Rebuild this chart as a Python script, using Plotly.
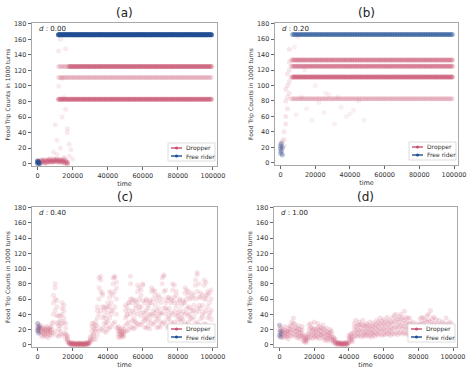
import plotly.graph_objects as go

# ---------------- data ----------------
time = list(range(0, 100000, 1000))  # sample times
x_ticks = [0, 20000, 40000, 60000, 80000, 100000]
y_ticks = [0, 20, 40, 60, 80, 100, 120, 140, 160, 180]
panel_titles = ["(a)", "(b)", "(c)", "(d)"]
panel_d = ["0.00", "0.20", "0.40", "1.00"]
legend_labels = ["Dropper", "Free rider"]

# panel (a): d = 0.00
a_free_band_level = [166]
a_free_band_start = [12000]
a_free_band_end = [99000]
a_free_band_agents = [4]
a_drop_band_level = [125, 125, 111, 83]
a_drop_band_start = [18000, 12000, 12000, 12000]
a_drop_band_end = [99000, 17000, 99000, 99000]
a_drop_band_agents = [3, 1, 1, 3]
a_free_early_time = [0, 0, 500, 1000]
a_free_early = [1, 3, 2, 0]
a_drop_low1 = [2, 3, 1, 4, 2, 3, 5, 2, 4, 3, 5, 4, 3, 2, 4, 3, 1, 0]
a_drop_low2 = [0, 1, 3, 2, 5, 1, 3, 4, 2, 6, 3, 2, 5, 4, 2, 1, 2, 1]
a_drop_low3 = [4, 2, 5, 3, 1, 4, 2, 6, 3, 2, 4, 6, 2, 5, 3, 6, 4, 2]
a_trans_time = [9000, 10000, 11000, 11000, 12000, 12000, 13000, 13000, 14000, 14000,
                15000, 15000, 16000, 16000, 17000, 17000, 18000, 18000, 19000, 20000]
a_trans_vals = [15, 50, 30, 12, 100, 145, 160, 20, 60, 110,
                8, 85, 70, 148, 45, 40, 25, 10, 18, 6]

# panel (b): d = 0.20
b_free_band_level = [166]
b_free_band_start = [7000]
b_free_band_end = [99000]
b_free_band_agents = [2]
b_drop_band_level = [133, 125, 111, 83]
b_drop_band_start = [7000, 7000, 7000, 7000]
b_drop_band_end = [99000, 99000, 99000, 99000]
b_drop_band_agents = [2, 2, 3, 1]
b_free_early_time = [0, 0, 0, 500, 500, 1000, 1000]
b_free_early = [12, 18, 22, 15, 25, 10, 20]
b_rise_time = [0, 0, 0, 1000, 1000, 1000, 2000, 2000, 2000, 3000, 3000, 3000, 3000,
               4000, 4000, 4000, 4000, 5000, 5000, 5000, 5000, 5000, 6000, 6000, 6000, 6000]
b_rise_vals = [15, 20, 25, 18, 28, 12, 22, 30, 40, 50, 80, 95, 60,
               85, 100, 115, 70, 147, 120, 130, 90, 105, 110, 125, 133, 83]
b_scatter_time = [8000, 9000, 10000, 12000, 15000, 18000, 20000, 22000, 25000, 28000,
                  31000, 35000, 38000, 42000, 45000, 48000, 14000, 26000, 33000, 40000]
b_scatter_vals = [150, 62, 163, 85, 70, 55, 100, 78, 65, 88,
                  50, 72, 60, 68, 80, 55, 120, 90, 85, 63]

# panel (c): d = 0.40
c_free_time = [0, 0, 500, 500, 1000]
c_free = [28, 18, 22, 15, 24]
c_drop1 = [18, 16, 12, 10, 14, 11, 9, 13, 12, 15, 18, 12, 11, 14, 12, 15, 8, 4, 1, 0,
           1, 0, 1, 0, 1, 0, 1, 0, 1, 1, 3, 6, 8, 7, 12, 18, 20, 22, 18, 16,
           20, 22, 24, 28, 30, 22, 10, 9, 11, 10, 17, 18, 20, 24, 22, 21, 24, 28, 26, 27,
           30, 23, 22, 24, 21, 28, 27, 30, 22, 24, 23, 28, 30, 27, 22, 24, 21, 28, 30, 26,
           22, 24, 21, 23, 28, 27, 30, 23, 22, 24, 28, 30, 27, 22, 24, 28, 27, 22, 24, 21]
c_drop2 = [24, 22, 16, 18, 20, 15, 17, 19, 16, 30, 45, 28, 20, 25, 28, 35, 15, 6, 2, 1,
           2, 1, 0, 2, 1, 2, 0, 2, 1, 2, 5, 12, 15, 18, 25, 40, 45, 35, 28, 25,
           30, 35, 40, 45, 50, 40, 14, 16, 13, 15, 25, 28, 30, 40, 32, 35, 30, 40, 45, 38,
           42, 32, 35, 30, 33, 40, 38, 42, 33, 35, 30, 42, 48, 40, 33, 35, 30, 40, 44, 38,
           32, 34, 30, 33, 40, 42, 38, 35, 33, 36, 42, 48, 44, 34, 36, 42, 45, 35, 38, 33]
c_drop3 = [28, 20, 22, 14, 12, 20, 14, 22, 20, 40, 60, 38, 30, 18, 40, 45, 22, 10, 3, 2,
           0, 2, 1, 1, 0, 1, 2, 1, 0, 3, 8, 18, 22, 25, 35, 60, 70, 50, 38, 35,
           42, 50, 55, 65, 70, 60, 18, 20, 17, 12, 35, 40, 45, 60, 45, 42, 48, 55, 60, 50,
           58, 42, 45, 48, 40, 55, 60, 52, 45, 48, 42, 60, 70, 55, 45, 48, 42, 58, 62, 50,
           42, 45, 40, 44, 55, 60, 50, 48, 45, 52, 60, 70, 62, 48, 52, 60, 65, 50, 55, 45]
c_drop4 = [20, 26, 18, 22, 17, 24, 20, 16, 24, 55, 75, 50, 38, 32, 48, 52, 28, 12, 2, 3,
           1, 0, 2, 1, 2, 0, 1, 3, 2, 1, 6, 24, 28, 20, 45, 75, 85, 65, 45, 48,
           50, 62, 68, 80, 88, 75, 22, 12, 22, 18, 45, 50, 55, 80, 55, 58, 52, 70, 75, 65,
           78, 55, 58, 52, 55, 70, 72, 65, 58, 62, 55, 80, 90, 72, 58, 62, 55, 72, 78, 65,
           55, 58, 52, 55, 68, 72, 65, 60, 62, 65, 78, 92, 80, 62, 65, 78, 82, 65, 68, 60]
c_drop5 = [22, 18, 25, 20, 22, 18, 23, 20, 28, 65, 80, 58, 25, 38, 55, 30, 12, 8, 4, 1,
           2, 3, 1, 0, 3, 1, 0, 0, 3, 2, 10, 28, 12, 30, 50, 88, 90, 68, 50, 30,
           55, 70, 45, 88, 90, 82, 24, 18, 14, 20, 52, 38, 55, 90, 60, 30, 58, 78, 50, 72,
           80, 35, 60, 38, 58, 75, 45, 70, 38, 65, 40, 88, 92, 48, 62, 38, 60, 80, 55, 70,
           38, 60, 35, 58, 75, 48, 70, 40, 68, 45, 85, 95, 52, 68, 40, 85, 60, 70, 42, 72]

# panel (d): d = 1.00
d_free_time = [0, 0, 500, 500, 1000]
d_free = [26, 12, 18, 10, 15]
d_drop1 = [12, 10, 9, 11, 10, 8, 12, 11, 14, 12, 9, 10, 8, 11, 4, 3, 5, 9, 10, 8,
           11, 9, 10, 8, 12, 9, 6, 7, 5, 8, 6, 3, 2, 0, 1, 0, 1, 0, 1, 0,
           3, 5, 4, 10, 12, 11, 13, 10, 12, 11, 13, 11, 12, 10, 13, 11, 14, 13, 15, 12,
           14, 13, 15, 14, 12, 15, 14, 16, 13, 15, 17, 14, 16, 15, 13, 14, 11, 12, 10, 13,
           11, 14, 13, 15, 12, 14, 16, 15, 13, 14, 12, 11, 13, 10, 12, 11, 13, 10, 12, 11]
d_drop2 = [16, 14, 13, 15, 12, 14, 16, 18, 20, 17, 13, 15, 12, 14, 6, 5, 8, 14, 16, 13,
           15, 12, 16, 14, 13, 15, 10, 12, 9, 11, 10, 5, 4, 1, 2, 1, 0, 2, 0, 2,
           6, 8, 7, 16, 18, 15, 19, 16, 18, 15, 17, 16, 18, 15, 17, 16, 20, 18, 21, 19,
           20, 18, 22, 19, 18, 21, 22, 24, 20, 23, 25, 21, 24, 22, 20, 21, 16, 18, 15, 17,
           16, 20, 22, 21, 19, 23, 24, 22, 20, 21, 19, 16, 18, 15, 17, 16, 19, 15, 17, 16]
d_drop3 = [20, 18, 17, 19, 16, 18, 20, 24, 28, 22, 18, 20, 16, 19, 9, 8, 10, 20, 22, 18,
           21, 17, 22, 19, 18, 21, 15, 17, 13, 16, 14, 8, 6, 2, 3, 2, 1, 3, 2, 1,
           9, 11, 10, 22, 24, 20, 26, 22, 25, 21, 23, 21, 24, 20, 23, 22, 26, 24, 28, 25,
           27, 24, 29, 26, 24, 28, 30, 32, 27, 30, 33, 28, 32, 29, 27, 28, 22, 24, 20, 23,
           21, 27, 29, 28, 25, 30, 32, 30, 27, 28, 26, 22, 25, 21, 23, 22, 26, 21, 23, 22]
d_drop4 = [25, 22, 20, 24, 18, 22, 25, 30, 35, 27, 22, 25, 20, 24, 12, 10, 14, 26, 28, 22,
           30, 20, 28, 24, 22, 26, 20, 22, 16, 20, 18, 10, 8, 3, 2, 3, 2, 1, 3, 2,
           12, 14, 15, 28, 32, 26, 30, 27, 32, 26, 28, 26, 30, 25, 29, 27, 32, 30, 35, 31,
           33, 30, 36, 32, 30, 35, 38, 40, 34, 37, 40, 35, 44, 36, 34, 35, 28, 30, 25, 28,
           26, 34, 36, 35, 32, 38, 40, 45, 34, 36, 33, 28, 32, 27, 30, 28, 35, 27, 30, 28]

# ---------------- styling ----------------
DROP = "rgb(200,80,110)"
FREE = "rgb(32,78,148)"
FONT = "DejaVu Sans"
W, H = 474, 369
# pixel boxes of the four axes: (left, right, top, bottom)
boxes = [(32, 217, 23, 166), (275, 458, 23, 165), (32, 217, 207, 347), (274, 457, 207, 347)]

fig = go.Figure()
axis_ids = [("x", "y"), ("x2", "y2"), ("x3", "y3"), ("x4", "y4")]


def pts(p, xs, ys, color, op, size=5):
    xa, ya = axis_ids[p]
    fig.add_trace(go.Scatter(x=xs, y=ys, mode="markers", xaxis=xa, yaxis=ya,
                             marker=dict(color=color, size=size, opacity=op, line=dict(width=0)),
                             showlegend=False, hoverinfo="skip"))


def bands(p, levels, starts, ends, agents, color, op):
    for lv, s, e, n in zip(levels, starts, ends, agents):
        xs = [t for t in time if s <= t <= e]
        for _ in range(n):
            pts(p, xs, [lv] * len(xs), color, op)


# (a)
pts(0, time[:18], a_drop_low1, DROP, 0.25)
pts(0, time[:18], a_drop_low2, DROP, 0.25)
pts(0, time[:18], a_drop_low3, DROP, 0.25)
pts(0, a_trans_time, a_trans_vals, DROP, 0.12)
bands(0, a_drop_band_level, a_drop_band_start, a_drop_band_end, a_drop_band_agents, DROP, 0.2)
bands(0, a_free_band_level, a_free_band_start, a_free_band_end, a_free_band_agents, FREE, 0.4)
pts(0, a_free_early_time, a_free_early, FREE, 0.6)
# (b)
pts(1, b_rise_time, b_rise_vals, DROP, 0.14)
pts(1, b_scatter_time, b_scatter_vals, DROP, 0.09)
bands(1, b_drop_band_level, b_drop_band_start, b_drop_band_end, b_drop_band_agents, DROP, 0.2)
bands(1, b_free_band_level, b_free_band_start, b_free_band_end, b_free_band_agents, FREE, 0.26)
pts(1, b_free_early_time, b_free_early, FREE, 0.3)
# (c)
for s in [c_drop1, c_drop2, c_drop3, c_drop4, c_drop5]:
    pts(2, time, s, DROP, 0.15, 5)
pts(2, c_free_time, c_free, FREE, 0.22)
# (d)
for s in [d_drop1, d_drop2, d_drop3, d_drop4]:
    pts(3, time, s, DROP, 0.17, 5)
pts(3, d_free_time, d_free, FREE, 0.22)

layout = dict(width=W, height=H, margin=dict(l=0, r=0, t=0, b=0),
              paper_bgcolor="white", plot_bgcolor="white", showlegend=False,
              font=dict(family=FONT, size=7, color="#333"))
annotations = []
shapes = []


def px(x):
    return x / W


def py(y):
    return 1 - y / H


for p, (l, r, t, b) in enumerate(boxes):
    xa, ya = axis_ids[p]
    sx = "" if p == 0 else str(p + 1)
    layout["xaxis" + sx] = dict(domain=[px(l), px(r)], anchor=ya, range=[-3200, 102300],
                                automargin=False,
                                tickvals=x_ticks, ticktext=[str(v) for v in x_ticks],
                                tickfont=dict(size=6.5, color="#333"), ticks="outside", ticklen=3,
                                tickcolor="#666", showline=True, mirror=True, linecolor="#a8a8a8",
                                linewidth=1.3, showgrid=False, zeroline=False,
                                title=dict(text="time", font=dict(size=6.5), standoff=1))
    layout["yaxis" + sx] = dict(domain=[py(b), py(t)], anchor=xa, range=[-3, 181],
                                automargin=False,
                                tickvals=y_ticks, tickfont=dict(size=6.5, color="#333"),
                                ticks="outside", ticklen=3, tickcolor="#666", showline=True,
                                mirror=True, linecolor="#a8a8a8", linewidth=1.3, showgrid=False,
                                zeroline=False,
                                title=dict(text="Food Trip Counts in 1000 turns", font=dict(size=6),
                                           standoff=3))
    # panel title and d label
    annotations.append(dict(text=panel_titles[p], x=px((l + r) / 2), y=py(t - 10),
                            xref="paper", yref="paper", showarrow=False,
                            font=dict(size=12, color="#222"), xanchor="center", yanchor="middle"))
    annotations.append(dict(text="<i>d</i> : " + panel_d[p], x=px(l + 5), y=py(t + 6),
                            xref="paper", yref="paper", showarrow=False,
                            font=dict(size=7, color="#222"), xanchor="left", yanchor="middle"))
    # matplotlib-style legend box in the lower right corner
    lx1, lx0 = r - 2, r - 49
    ly1, ly0 = b - 5, b - 23
    shapes.append(dict(type="rect", xref="paper", yref="paper", x0=px(lx0), x1=px(lx1),
                       y0=py(ly1), y1=py(ly0), fillcolor="white", line=dict(color="#d4d4d4", width=0.8),
                       layer="above"))
    for i, (lab, col) in enumerate(zip(legend_labels, [DROP, FREE])):
        yy = ly0 + 5 + i * 8
        shapes.append(dict(type="line", xref="paper", yref="paper", x0=px(lx0 + 3), x1=px(lx0 + 14),
                           y0=py(yy), y1=py(yy), line=dict(color=col, width=1.4), layer="above"))
        shapes.append(dict(type="circle", xref="paper", yref="paper", x0=px(lx0 + 7), x1=px(lx0 + 10),
                           y0=py(yy + 1.5), y1=py(yy - 1.5), fillcolor=col, line=dict(width=0),
                           layer="above"))
        annotations.append(dict(text=lab, x=px(lx0 + 16), y=py(yy), xref="paper", yref="paper",
                                showarrow=False, font=dict(size=6, color="#333"),
                                xanchor="left", yanchor="middle"))
layout["annotations"] = annotations
layout["shapes"] = shapes
fig.update_layout(**layout)
fig.write_html("out.html", config={"displayModeBar": False, "staticPlot": True},
               post_script="document.body.style.margin='0';document.body.style.overflow='hidden';")
